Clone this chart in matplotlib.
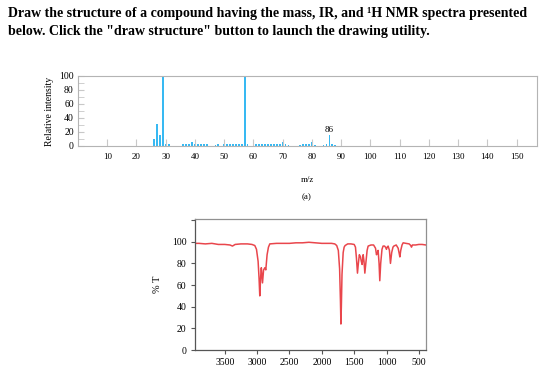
import matplotlib.pyplot as plt

plt.rcParams['font.family'] = ['Liberation Serif', 'DejaVu Serif']

# mass spectrum: m/z and relative intensity
mz = [26, 27, 28, 29, 30, 31,
      36, 37, 38, 39, 40, 41, 42, 43, 44,
      47, 48, 50, 51, 52, 53, 54, 55, 56, 57, 58,
      60, 61, 62, 63, 64, 65, 66, 67, 68, 69, 70, 71, 72,
      76, 77, 78, 79, 80, 81,
      84, 85, 86, 87, 88]
intensity = [9.5, 31, 15.5, 100, 3, 2.5,
             2.5, 2.5, 3, 5.5, 3, 2.5, 2.5, 2.5, 2.5,
             2, 2.5, 2.5, 2.5, 2.5, 2.5, 2.5, 2.5, 2.5, 100, 3,
             2.5, 2.5, 2.5, 2.5, 2.5, 2.5, 2.5, 2.5, 2.5, 2.5, 6, 2.5, 1.5,
             2, 2.5, 2.5, 2.5, 5, 2,
             2, 3.5, 16, 3, 2]
ms_xticks = [10, 20, 30, 40, 50, 60, 70, 80, 90, 100, 110, 120, 130, 140, 150]
ms_yticks = [0, 20, 40, 60, 80, 100]

# IR spectrum: wavenumber (cm-1) and %T
wavenumber = [3960, 3900, 3800, 3700, 3600, 3500, 3420, 3381, 3340, 3250, 3150, 3080, 3036,
              3010, 2985, 2970, 2959, 2945, 2935, 2917, 2900, 2880, 2866, 2846, 2825, 2804,
              2700, 2600, 2500, 2400, 2300, 2200, 2100, 2000, 1900, 1850, 1800, 1770, 1745,
              1725, 1712, 1705, 1698, 1688, 1670, 1655, 1640, 1600, 1550, 1500, 1480,
              1465, 1449, 1435, 1420, 1402, 1390, 1377, 1368, 1361, 1348, 1335, 1320, 1300,
              1284, 1240, 1200, 1170, 1155, 1140, 1130, 1115, 1104, 1090, 1070, 1053, 1030,
              1010, 1001, 990, 975, 955, 939, 920, 900, 887, 850, 820, 800, 794, 780, 760,
              743, 700, 650, 625, 614, 600, 550, 500, 450, 392]
trans = [98.5, 98.5, 98, 98.5, 97.5, 97.5, 97, 96, 97.5, 98, 98, 97.5, 96.5,
         93, 82, 66, 50, 68, 76, 62, 74, 76, 74, 88, 95, 98,
         98.5, 98.5, 98.5, 99, 99, 99.5, 99, 98.5, 98.5, 98.5, 98, 96.5, 92,
         75, 45, 24, 40, 70, 90, 95, 96.5, 98, 98, 97.5, 95,
         85, 71, 80, 88, 86, 82, 79, 84, 88, 82, 71, 80, 92,
         96, 97, 97, 94, 88, 90, 92, 80, 64, 80, 93, 96, 96,
         94.5, 93, 95, 96, 92, 80, 90, 95, 96, 97, 94, 88, 86, 92, 97,
         99, 98.5, 98, 96.5, 95, 97, 97, 97.5, 97.5, 97]
ir_xticks = [3500, 3000, 2500, 2000, 1500, 1000, 500]
ir_yticks = [0, 20, 40, 60, 80, 100, 120]

fig = plt.figure(figsize=(5.52, 3.84), dpi=100)

fig.text(0.014, 0.966, 'Draw the structure of a compound having the mass, IR, and \u00b9H NMR spectra presented',
         fontsize=10, fontweight='bold', va='center', ha='left')
fig.text(0.014, 0.917, 'below. Click the "draw structure" button to launch the drawing utility.',
         fontsize=10, fontweight='bold', va='center', ha='left')

# mass spectrum panel
ax1 = fig.add_axes([0.1413, 0.6198, 0.8315, 0.1823])
ax1.bar(mz, intensity, width=0.6, color='#38b9f2')
ax1.set_xlim(0, 157)
ax1.set_ylim(0, 100)
ax1.set_xticks(ms_xticks)
ax1.set_yticks(ms_yticks)
ax1.set_yticks([10, 30, 50, 70, 90], minor=True)
ax1.tick_params(axis='x', direction='in', length=5, color='#c8c8c8', labelsize=6.5, pad=5)
ax1.tick_params(axis='y', which='both', direction='in', length=4, color='#c8c8c8', labelsize=7, pad=3)
for s in ax1.spines.values():
    s.set_color('#b4b4b4')
    s.set_linewidth(0.8)
ax1.set_ylabel('Relative intensity', fontsize=7, labelpad=4)
ax1.text(86, 17, '86', ha='center', va='bottom', fontsize=6.5)
fig.text(0.556, 0.531, 'm/z', ha='center', va='center', fontsize=6.5)
fig.text(0.556, 0.486, '(a)', ha='center', va='center', fontsize=6.5)

# IR panel
ax2 = fig.add_axes([0.3533, 0.0885, 0.4184, 0.3412])
ax2.plot(wavenumber, trans, color='#e9464c', linewidth=1.1)
ax2.set_xlim(3960, 390)
ax2.set_ylim(0, 121)
ax2.set_xticks(ir_xticks)
ax2.set_yticks(ir_yticks)
ax2.set_yticklabels(['0', '20', '40', '60', '80', '100', ''])
ax2.tick_params(axis='both', direction='out', length=3, color='#555555', labelsize=7, pad=3)
ax2.spines['left'].set_color('#555555')
ax2.spines['bottom'].set_color('#555555')
ax2.spines['top'].set_color('#909090')
ax2.spines['right'].set_color('#909090')
for s in ax2.spines.values():
    s.set_linewidth(0.9)
ax2.set_ylabel('% T', fontsize=7.5, labelpad=7)
# the axis title sits at the bottom edge and is clipped, as in the source screenshot
fig.text(0.57, -0.018, 'Wavenumber cm$^{-1}$', ha='center', va='center', fontsize=7.5)

fig.savefig('out.png', dpi=100)
